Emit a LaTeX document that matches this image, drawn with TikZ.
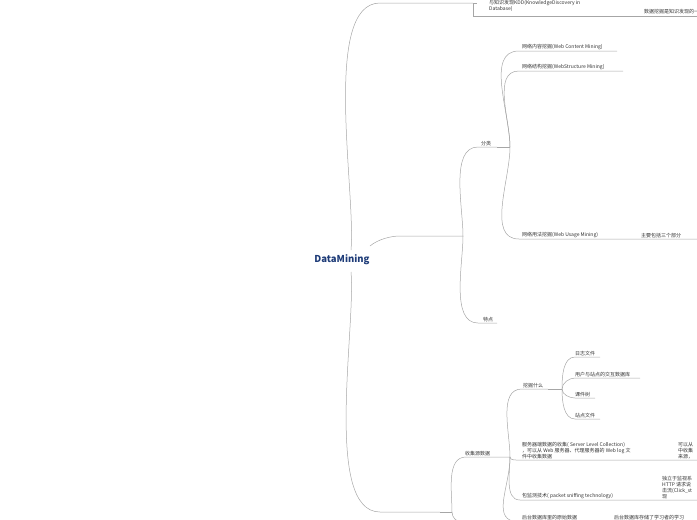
\documentclass[tikz,border=0pt]{standalone}
\usepackage{fontspec}
\setmainfont{Noto Sans CJK SC}
\begin{document}
\begin{tikzpicture}[x=1pt,y=-1pt,
  ln/.style={draw=black!35,line width=0.5pt},
  lbl/.style={anchor=south west,inner sep=1pt,font=\fontsize{5}{6}\selectfont,text=black!80,align=left},
  br/.style={ln,out=90,in=180,looseness=0.9},
  brd/.style={ln,out=-90,in=180,looseness=0.9}]
\useasboundingbox (0,0) rectangle (697,520);
\node[font=\bfseries\fontsize{9.5}{11}\selectfont,text={rgb,255:red,30;green,60;blue,120}] (root) at (342,260) {DataMining};
\coordinate (r0) at (351,250);
\coordinate (r1) at (351,272);
% top branch
\coordinate (t1) at (473,3);
\draw[ln] (r0) to[out=85,in=180,looseness=0.6] (380,3) -- (t1);
\draw[ln] (t1) -- (473,16) -- (697,16);
\draw[ln] (473,3) -- (477,3);
\node[lbl,anchor=north west] (kdd) at (488,-1) {与知识发现KDD(KnowledgeDiscovery in\\Database)};
\node[lbl] (kdd2) at (643,15) {数据挖掘是知识发现的一};
% middle branch
\coordinate (m1) at (455,236);
\draw[ln] (370,246) to[out=40,in=180,looseness=0.8] (400,236) -- (m1) -- (463,236);
\coordinate (fl) at (478,147);
\coordinate (td) at (478,323);
\draw[ln] (463,236) to[out=-90,in=180,looseness=0.8] (td) -- (497,323);
\draw[ln] (463,236) to[out=90,in=180,looseness=0.8] (fl) -- (497,147);
\draw[ln,line width=1pt] (497,147) -- (510,147);
\node[lbl] (fenlei) at (480,147) {分类};
\node[lbl] (tedian) at (482,323) {特点};
\draw[br] (510,147) to (519,51) -- (617,51);
\draw[br] (510,147) to (519,71) -- (623,71);
\draw[brd] (510,147) to[out=-90,in=180] (519,239) -- (697,239);
\node[lbl] (c1) at (521,51) {网络内容挖掘(Web Content Mining)};
\node[lbl] (c2) at (521,71) {网络结构挖掘(WebStructure Mining)};
\node[lbl] (c3) at (521,239) {网络用法挖掘(Web Usage Mining)};
\node[lbl] (c3b) at (640,239) {主要包括三个部分};
% bottom branch
\coordinate (b1) at (440,512);
\draw[ln] (r1) to[out=-85,in=180,looseness=0.6] (380,512) -- (b1);
\draw[ln,line width=1pt] (440,512) -- (452,512);
\draw[ln] (452,512) to[out=-90,in=180] (462,522);
\draw[br] (452,512) to (466,457) -- (510,457);
\node[lbl] (sj) at (464,457) {收集源数据};
\draw[br] (510,457) to (522,389) -- (548,389);
\draw[ln,line width=1pt] (548,389) -- (562,389);
\node[lbl] (wj) at (522,389) {挖掘什么};
\draw[br] (562,389) to (575,357) -- (600,357);
\draw[br] (562,389) to (575,378) -- (640,378);
\draw[brd] (562,389) to[out=-90,in=180] (575,398) -- (595,398);
\draw[brd] (562,389) to[out=-90,in=180] (575,419) -- (600,419);
\node[lbl] (w1) at (574,357) {日志文件};
\node[lbl] (w2) at (574,378) {用户与站点的交互数据库};
\node[lbl] (w3) at (574,398) {课件树};
\node[lbl] (w4) at (574,419) {站点文件};
\draw[brd] (510,457) to[out=-90,in=180] (520,460) -- (697,460);
\draw[brd] (510,457) to[out=-90,in=180] (520,500) -- (697,500);
\draw[brd] (510,457) to[out=-90,in=180,looseness=1.2] (520,522);
\node[lbl] (s1) at (521,460) {服务器端数据的收集( Server Level Collection)\\，可以从 Web 服务器、代理服务器的 Web log 文\\件中收集数据};
\node[lbl] (s1b) at (677,460) {可以从\\中收集\\来源，};
\node[lbl] (s2) at (521,500) {包监测技术( packet sniffing technology)};
\node[lbl] (s2b) at (661,500) {独立于监视系\\HTTP 请求说\\击流(Click\_st\\现};
\node[lbl] (s3) at (521,521) {后台数据库里的原始数据};
\node[lbl] (s3b) at (613,521) {后台数据库存储了学习者的学习};
\end{tikzpicture}
\end{document}
